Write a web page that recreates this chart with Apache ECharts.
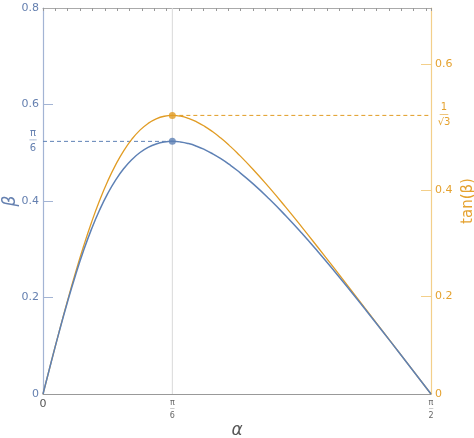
<!DOCTYPE html>
<html><head><meta charset="utf-8">
<script src="https://cdn.jsdelivr.net/npm/echarts@6/dist/echarts.min.js"></script>
<style>html,body{margin:0;padding:0;background:#fff}#c{width:474px;height:438px}</style>
</head><body><div id="c"></div>
<script>
// α samples (radians), 0 .. π/2
const alpha = [0, 0.0327, 0.0654, 0.0982, 0.1309, 0.1636, 0.1963, 0.2291, 0.2618, 0.2945, 0.3272, 0.3600, 0.3927,
  0.4254, 0.4581, 0.4909, 0.5236, 0.5563, 0.5890, 0.6218, 0.6545, 0.6872, 0.7199, 0.7527, 0.7854,
  0.8508, 0.9163, 0.9817, 1.0472, 1.1126, 1.1781, 1.2435, 1.3090, 1.3744, 1.4399, 1.5053, 1.5708];
// β(α)
const beta = [0, 0.06517, 0.12871, 0.18913, 0.24525, 0.29626, 0.34166, 0.38132, 0.41529, 0.44381, 0.46725, 0.48600, 0.50047,
  0.51110, 0.51828, 0.52232, 0.52360, 0.52241, 0.51902, 0.51363, 0.50646, 0.49775, 0.48762, 0.47621, 0.46365,
  0.43555, 0.40409, 0.36990, 0.33347, 0.29522, 0.25550, 0.21458, 0.17272, 0.13014, 0.08704, 0.04361, 0];
// tan(β(α))
const tanBeta = [0, 0.06526, 0.12942, 0.19141, 0.25029, 0.30524, 0.35561, 0.40094, 0.44093, 0.47545, 0.50451, 0.52825, 0.54692,
  0.56080, 0.57025, 0.57564, 0.57735, 0.57577, 0.57124, 0.56413, 0.55475, 0.54340, 0.53033, 0.51580, 0.5,
  0.46535, 0.42762, 0.38775, 0.34641, 0.30411, 0.26120, 0.21794, 0.17446, 0.13088, 0.08727, 0.04363, 0];

// peak
const peakAlpha = 0.5236;
const peakBeta = 0.5236;
const peakTan = 0.5774;
const xMax = 1.5708;

// tick labels
const xTickValues = [0, 0.5236, 1.5708];
const xTickLabels = ['0', '{n|π}\n{b|─}\n{d|6}', '{n|π}\n{b|─}\n{d|2}'];
const leftTickValues = [0, 0.2, 0.4, 0.6, 0.8, 0.5236];
const leftTickLabels = ['0', '0.2', '0.4', '0.6', '0.8', '{n|π}\n{b|──}\n{d|6}'];
const rightTickValues = [0, 0.2027, 0.4228, 0.6841, 0.5774];
const rightTickLabels = ['0', '0.2', '0.4', '0.6', '{n|1}\n{b|──}\n{d|√3}'];

const BLUE = '#5e81b5', ORANGE = '#e19c24';
const FONT = 'DejaVu Sans';

function pick(vals, labels) {
  return function (v) {
    for (let i = 0; i < vals.length; i++) if (Math.abs(vals[i] - v) < 1e-3) return labels[i];
    return '';
  };
}

const chart = echarts.init(document.getElementById('c'), null, {renderer: 'canvas'});
chart.setOption({
  animation: false,
  backgroundColor: '#fff',
  grid: {left: 43, right: 43, top: 8, bottom: 44, containLabel: false, outerBoundsMode: 'none'},
  xAxis: [{
    type: 'value', min: 0, max: xMax, position: 'bottom',
    name: 'α', nameLocation: 'middle', nameGap: 28, nameMoveOverlap: false,
    nameTextStyle: {fontFamily: FONT, fontStyle: 'italic', fontSize: 17, color: '#555'},
    axisLine: {onZero: false, lineStyle: {color: '#999', width: 1}},
    axisTick: {show: false},
    splitLine: {show: false},
    axisLabel: {
      customValues: xTickValues, formatter: pick(xTickValues, xTickLabels),
      color: '#555', fontFamily: FONT, fontSize: 11, margin: 5,
      rich: {
        n: {fontSize: 8, fontFamily: FONT, color: '#666', width: 10, align: 'center', lineHeight: 8},
        b: {fontSize: 7, fontFamily: FONT, color: '#aaa', width: 10, align: 'center', lineHeight: 4},
        d: {fontSize: 8, fontFamily: FONT, color: '#666', width: 10, align: 'center', lineHeight: 9}
      }
    }
  }, {
    type: 'value', min: 0, max: xMax, position: 'top', interval: 0.05,
    axisLine: {onZero: false, lineStyle: {color: '#aaa', width: 1}},
    axisTick: {inside: true, length: 3, lineStyle: {color: '#999'}},
    axisLabel: {show: false},
    splitLine: {show: false}
  }],
  yAxis: [{
    type: 'value', min: 0, max: 0.8, position: 'left',
    name: 'β', nameLocation: 'middle', nameGap: 24, nameMoveOverlap: false,
    nameTextStyle: {fontFamily: FONT, fontStyle: 'italic', fontSize: 17, color: '#6580b0'},
    axisLine: {show: true, onZero: false, lineStyle: {color: '#a3b4d4', width: 1.2}},
    axisTick: {show: true, inside: true, length: 10, customValues: [0.2, 0.4, 0.6], lineStyle: {color: '#a3b4d4'}},
    splitLine: {show: false},
    axisLabel: {
      customValues: leftTickValues, formatter: pick(leftTickValues, leftTickLabels),
      color: '#6580b0', fontFamily: FONT, fontSize: 11, margin: 4,
      rich: {
        n: {fontSize: 10, fontFamily: FONT, color: '#6580b0', width: 12, align: 'center', lineHeight: 11},
        b: {fontSize: 6, fontFamily: FONT, color: '#6580b0', width: 12, align: 'center', lineHeight: 3},
        d: {fontSize: 10, fontFamily: FONT, color: '#6580b0', width: 12, align: 'center', lineHeight: 12}
      }
    }
  }, {
    type: 'value', min: 0, max: 0.8, position: 'right',
    name: 'tan(β)', nameLocation: 'middle', nameGap: 30, nameMoveOverlap: false,
    nameTextStyle: {fontFamily: FONT, fontSize: 15, color: '#e5a22f'},
    axisLine: {show: true, onZero: false, lineStyle: {color: '#f3cf8a', width: 1.2}},
    axisTick: {show: true, inside: true, length: 10, customValues: [0.2027, 0.4228, 0.6841], lineStyle: {color: '#f3cf8a'}},
    splitLine: {show: false},
    axisLabel: {
      customValues: rightTickValues, formatter: pick(rightTickValues, rightTickLabels),
      color: '#e5a22f', fontFamily: FONT, fontSize: 11, margin: 4,
      rich: {
        n: {fontSize: 10, fontFamily: FONT, color: '#e5a22f', width: 18, align: 'center', lineHeight: 11},
        b: {fontSize: 7, fontFamily: FONT, color: '#e5a22f', width: 18, align: 'center', lineHeight: 3},
        d: {fontSize: 10, fontFamily: FONT, color: '#e5a22f', width: 18, align: 'center', lineHeight: 12}
      }
    }
  }],
  series: [
    { // vertical guide at π/6
      type: 'line', xAxisIndex: 0, yAxisIndex: 0, silent: true, symbol: 'none',
      data: [[peakAlpha, 0], [peakAlpha, 0.8]],
      lineStyle: {color: '#d9d9d9', width: 1}, z: 1
    },
    { // blue dashed guide
      type: 'line', xAxisIndex: 0, yAxisIndex: 0, silent: true, symbol: 'none',
      data: [[0, peakBeta], [peakAlpha, peakBeta]],
      lineStyle: {color: BLUE, width: 1, type: [4, 3]}, z: 2
    },
    { // orange dashed guide
      type: 'line', xAxisIndex: 0, yAxisIndex: 1, silent: true, symbol: 'none',
      data: [[peakAlpha, peakTan], [xMax, peakTan]],
      lineStyle: {color: ORANGE, width: 1, type: [4, 3]}, z: 2
    },
    {
      name: 'tan(β)', type: 'line', xAxisIndex: 0, yAxisIndex: 1, smooth: true, showSymbol: false,
      data: alpha.map((a, i) => [a, tanBeta[i]]),
      lineStyle: {color: ORANGE, width: 1.3}, z: 3
    },
    {
      name: 'β', type: 'line', xAxisIndex: 0, yAxisIndex: 0, smooth: true, showSymbol: false,
      data: alpha.map((a, i) => [a, beta[i]]),
      lineStyle: {color: BLUE, width: 1.5}, z: 4
    },
    {
      type: 'scatter', xAxisIndex: 0, yAxisIndex: 0, symbolSize: 7,
      data: [[peakAlpha, peakBeta]], itemStyle: {color: BLUE}, z: 5
    },
    {
      type: 'scatter', xAxisIndex: 0, yAxisIndex: 1, symbolSize: 7,
      data: [[peakAlpha, peakTan]], itemStyle: {color: ORANGE}, z: 5
    }
  ]
});
</script>
</body></html>
